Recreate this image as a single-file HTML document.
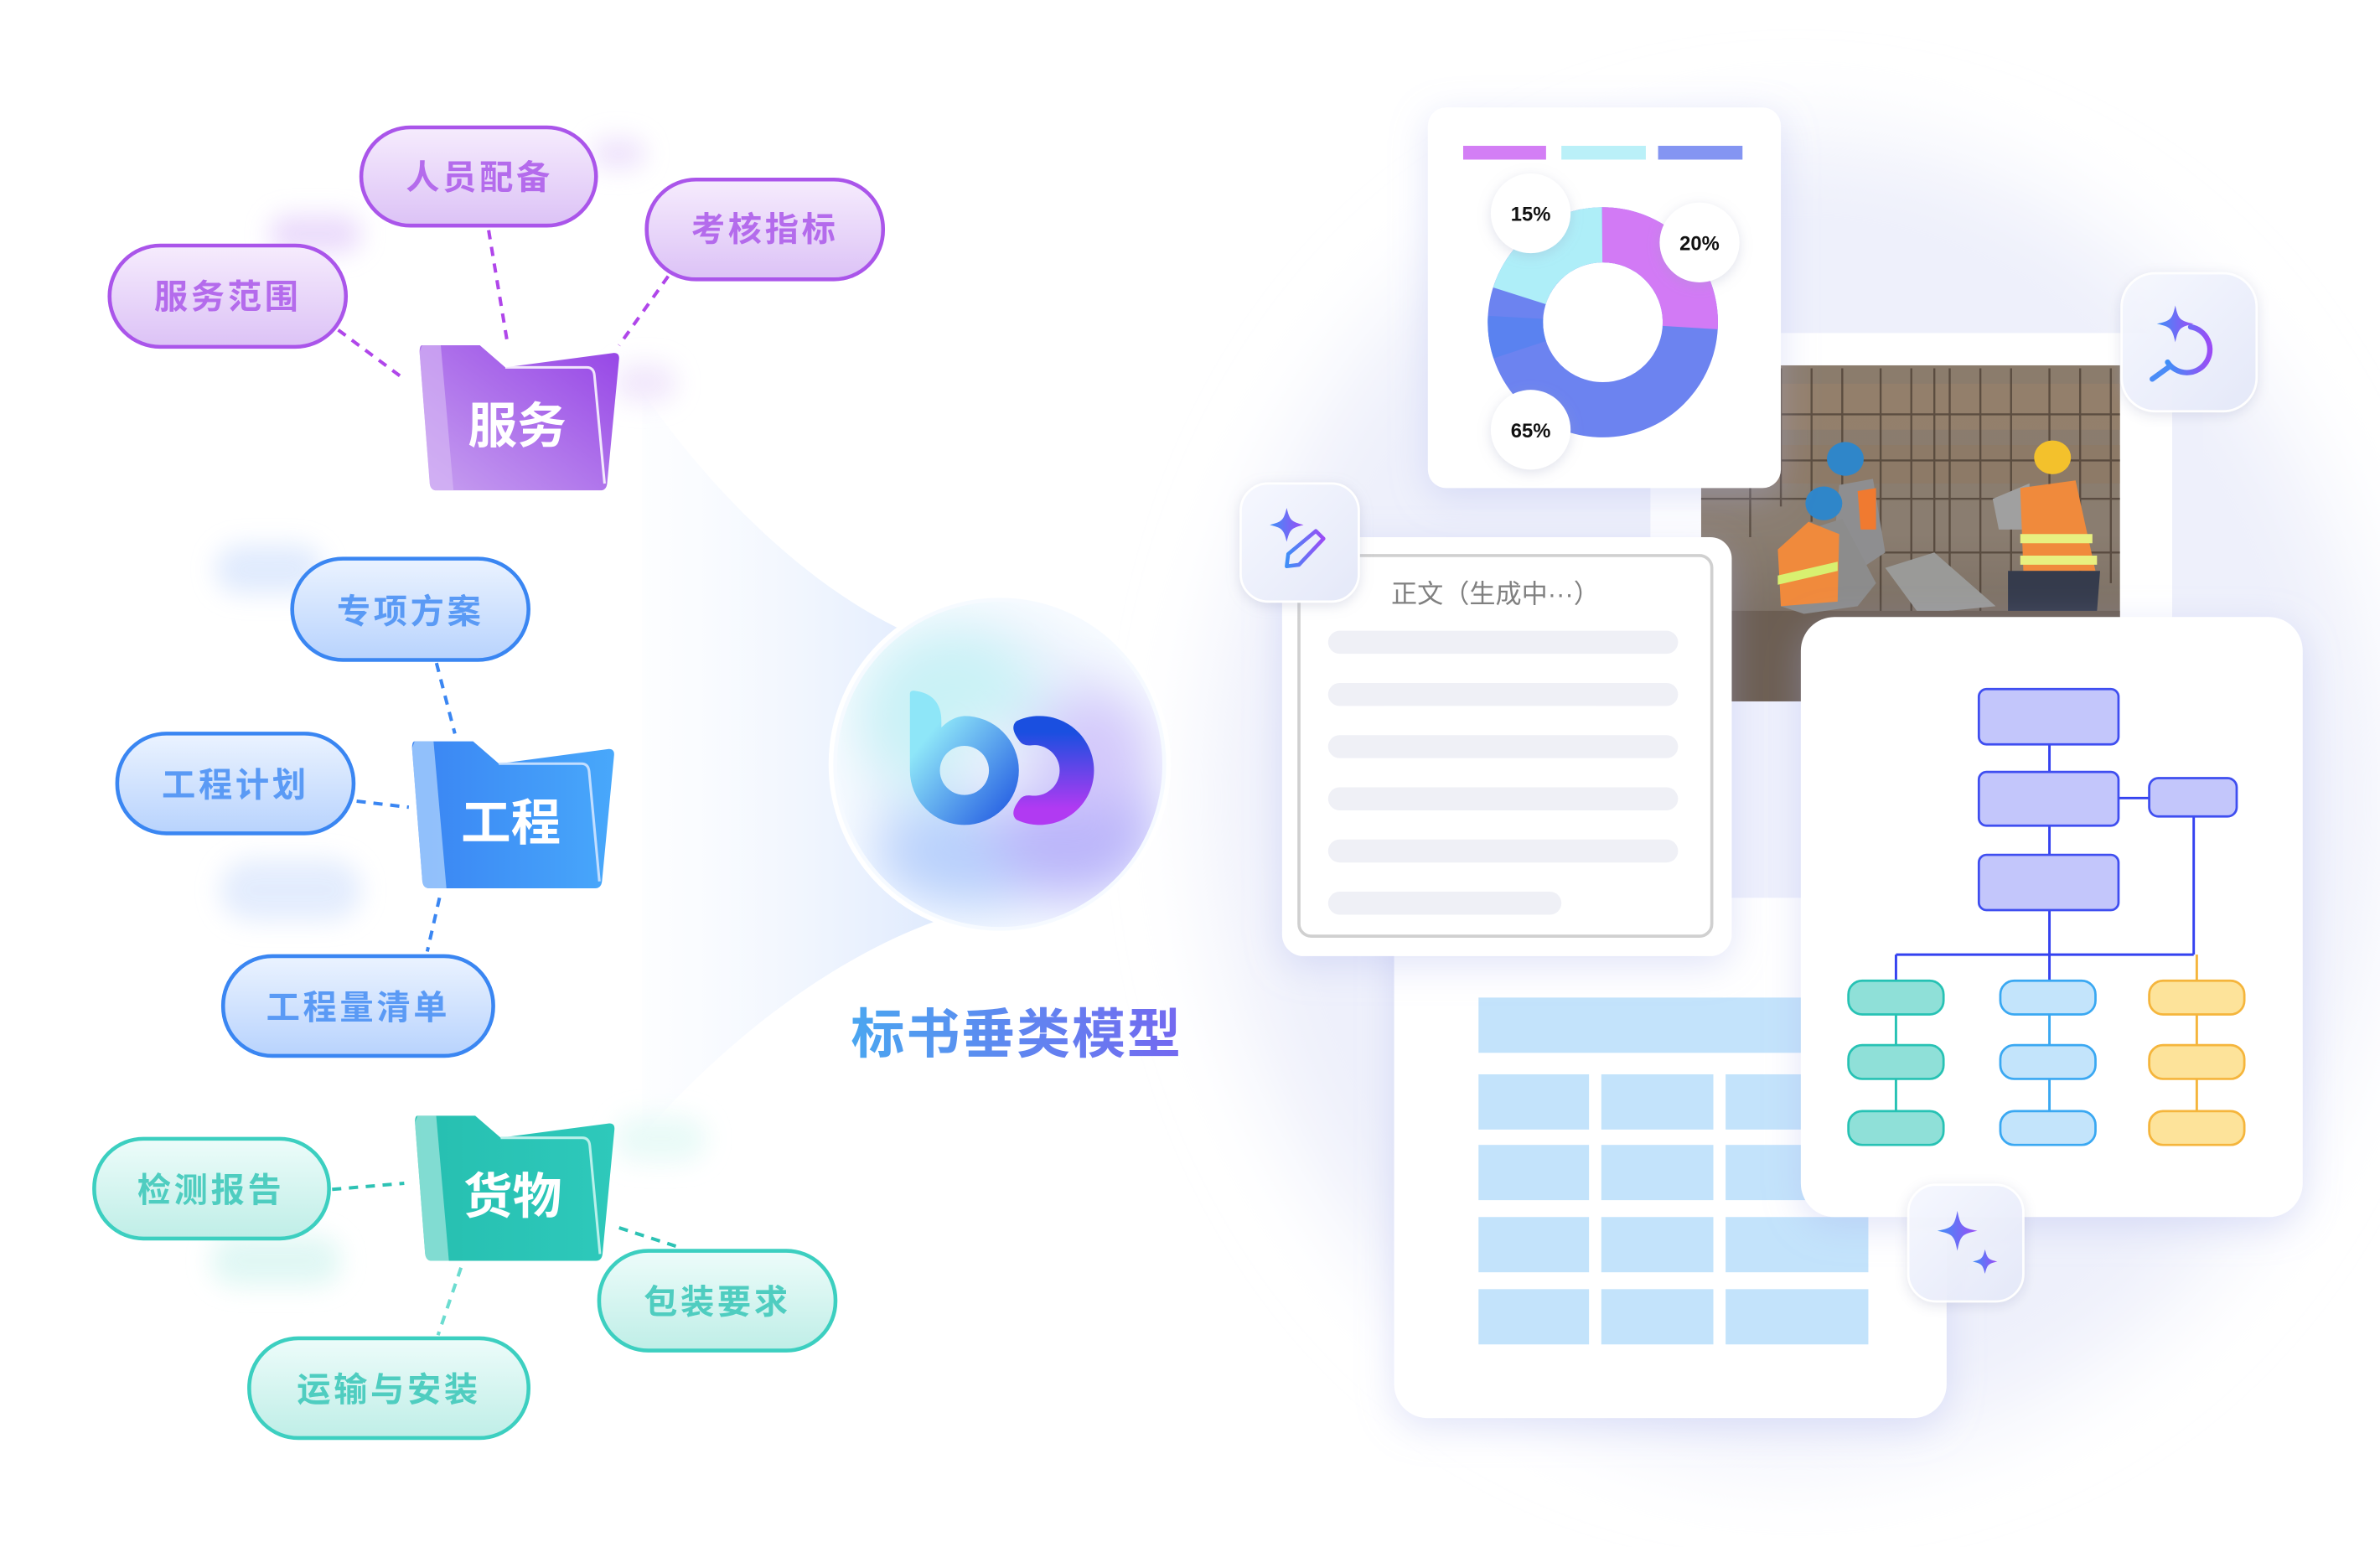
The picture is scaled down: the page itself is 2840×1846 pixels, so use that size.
<!DOCTYPE html>
<html><head><meta charset="utf-8"><style>
html,body{margin:0;padding:0;background:#fff;}
svg{display:block;}
text{font-family:"Liberation Sans","Noto Sans CJK SC",sans-serif;}
</style></head><body>
<svg width="2840" height="1846" viewBox="0 0 1550 1008" xmlns="http://www.w3.org/2000/svg">
<defs>
<filter id="blur8" x="-50%" y="-50%" width="200%" height="200%"><feGaussianBlur stdDeviation="8"/></filter>
<filter id="blur30" x="-50%" y="-50%" width="200%" height="200%"><feGaussianBlur stdDeviation="30"/></filter>
<filter id="blur18" x="-50%" y="-50%" width="200%" height="200%"><feGaussianBlur stdDeviation="18"/></filter>
<filter id="sh" x="-30%" y="-30%" width="160%" height="160%"><feDropShadow dx="0" dy="6" stdDeviation="12" flood-color="#a9b0ec" flood-opacity="0.35"/></filter>
<filter id="shs" x="-50%" y="-50%" width="200%" height="200%"><feDropShadow dx="0" dy="2" stdDeviation="4" flood-color="#9aa0c0" flood-opacity="0.3"/></filter>
<linearGradient id="gP" x1="0" y1="0" x2="0" y2="1"><stop offset="0" stop-color="#f6ecfd"/><stop offset="1" stop-color="#dcc2f6"/></linearGradient>
<linearGradient id="gB" x1="0" y1="0" x2="0" y2="1"><stop offset="0" stop-color="#ebf3ff"/><stop offset="1" stop-color="#b8d3fd"/></linearGradient>
<linearGradient id="gT" x1="0" y1="0" x2="0" y2="1"><stop offset="0" stop-color="#edfcfa"/><stop offset="1" stop-color="#bfeee7"/></linearGradient>
<linearGradient id="fP" x1="0" y1="1" x2="1" y2="0"><stop offset="0" stop-color="#c7a0f0"/><stop offset="1" stop-color="#9645e6"/></linearGradient>
<linearGradient id="fB" x1="0" y1="0" x2="1" y2="0"><stop offset="0" stop-color="#3a84f3"/><stop offset="1" stop-color="#48a8fb"/></linearGradient>
<linearGradient id="fT" x1="0" y1="0" x2="1" y2="0"><stop offset="0" stop-color="#26bfb0"/><stop offset="1" stop-color="#2ec9bb"/></linearGradient>
<linearGradient id="fan" x1="0" y1="0" x2="1" y2="0"><stop offset="0" stop-color="#f4f8ff" stop-opacity="0.2"/><stop offset="1" stop-color="#dfeafd"/></linearGradient>
<linearGradient id="logoB" x1="0" y1="0" x2="1" y2="1"><stop offset="0.25" stop-color="#8ee6f8"/><stop offset="1" stop-color="#1a4fe0"/></linearGradient>
<linearGradient id="logoD" x1="0" y1="0" x2="0" y2="1"><stop offset="0.15" stop-color="#1a4fe0"/><stop offset="0.85" stop-color="#b13af2"/></linearGradient>
<linearGradient id="title" x1="0" y1="0" x2="1" y2="0"><stop offset="0" stop-color="#4aa6f0"/><stop offset="1" stop-color="#7468f0"/></linearGradient>
<linearGradient id="spark" x1="0" y1="0" x2="1" y2="0"><stop offset="0" stop-color="#3f8ff7"/><stop offset="1" stop-color="#9b4cf5"/></linearGradient>
<linearGradient id="icon" x1="0" y1="0" x2="1" y2="1"><stop offset="0" stop-color="#f6f8ff"/><stop offset="1" stop-color="#e4e8f8"/></linearGradient>
<linearGradient id="photo" x1="0" y1="0" x2="0" y2="1"><stop offset="0" stop-color="#8b7c6c"/><stop offset="0.5" stop-color="#8a7d70"/><stop offset="1" stop-color="#6e6258"/></linearGradient>
<radialGradient id="orb" cx="0.5" cy="0.5" r="0.5"><stop offset="0.7" stop-color="#eef4fd"/><stop offset="1" stop-color="#f7fbff"/></radialGradient>
<clipPath id="orbClip"><circle cx="651" cy="498" r="106"/></clipPath>
<clipPath id="photoClip"><rect x="1108" y="238" width="273" height="219"/></clipPath>
</defs>

<ellipse cx="1170" cy="520" rx="380" ry="430" fill="#eef0fb" filter="url(#blur30)"/>

<path d="M418,255 C470,330 540,395 610,420 L610,600 C540,625 470,680 418,740 Z" fill="url(#fan)"/>

<g filter="url(#blur8)" opacity="0.8">
<rect x="385" y="90" width="35" height="20" rx="10" fill="#eadcfb"/>
<rect x="175" y="140" width="60" height="25" rx="12" fill="#e6d3fb"/>
<rect x="400" y="237" width="40" height="25" rx="12" fill="#eee2fb"/>
<rect x="140" y="355" width="70" height="32" rx="16" fill="#d9e6fd"/>
<rect x="143" y="560" width="92" height="40" rx="20" fill="#dde8fd"/>
<rect x="137" y="805" width="85" height="33" rx="16" fill="#d9f6f2"/>
<rect x="400" y="727" width="60" height="30" rx="15" fill="#e4f9f6"/>
</g>

<g fill="none" stroke-width="2.2" stroke-dasharray="6,5">
<path d="M318,150 L330,222" stroke="#b046ea"/>
<path d="M435,180 L403,225" stroke="#b046ea"/>
<path d="M220,215 L263,247" stroke="#b046ea"/>
<path d="M284,432 L296,478" stroke="#3a86f2"/>
<path d="M232,522 L266,526" stroke="#3a86f2"/>
<path d="M286,585 L278,620" stroke="#3a86f2"/>
<path d="M216,775 L263,771" stroke="#2dc2b4"/>
<path d="M403,800 L440,812" stroke="#2dc2b4"/>
<path d="M300,826 L285,870" stroke="#6cdcd0"/>
</g>

<g font-size="22" font-weight="bold" text-anchor="middle" letter-spacing="2">
<rect x="235" y="83" width="153" height="64" rx="32" fill="url(#gP)" stroke="#aa55ea" stroke-width="2.5"/>
<text x="312" y="123" fill="#b46bec">人员配备</text>
<rect x="421" y="117" width="154" height="65" rx="32" fill="url(#gP)" stroke="#aa55ea" stroke-width="2.5"/>
<text x="498" y="157" fill="#b46bec">考核指标</text>
<rect x="71" y="160" width="154" height="66" rx="33" fill="url(#gP)" stroke="#aa55ea" stroke-width="2.5"/>
<text x="148" y="201" fill="#b46bec">服务范围</text>

<rect x="190" y="364" width="154" height="66" rx="33" fill="url(#gB)" stroke="#3a86f2" stroke-width="2.5"/>
<text x="267" y="406" fill="#5a9af5">专项方案</text>
<rect x="76" y="478" width="154" height="65" rx="32" fill="url(#gB)" stroke="#3a86f2" stroke-width="2.5"/>
<text x="153" y="519" fill="#5a9af5">工程计划</text>
<rect x="145" y="623" width="176" height="65" rx="32" fill="url(#gB)" stroke="#3a86f2" stroke-width="2.5"/>
<text x="233" y="664" fill="#5a9af5">工程量清单</text>

<rect x="61" y="742" width="153" height="65" rx="32" fill="url(#gT)" stroke="#3ccfc0" stroke-width="2.5"/>
<text x="137" y="783" fill="#4fcdc0">检测报告</text>
<rect x="390" y="815" width="154" height="65" rx="32" fill="url(#gT)" stroke="#3ccfc0" stroke-width="2.5"/>
<text x="467" y="856" fill="#4fcdc0">包装要求</text>
<rect x="162" y="872" width="182" height="65" rx="32" fill="url(#gT)" stroke="#3ccfc0" stroke-width="2.5"/>
<text x="253" y="913" fill="#4fcdc0">运输与安装</text>
</g>

<g transform="translate(264.7,221.1) scale(0.553)">
<path d="M18,7 L86,7 L116,33 L244,16 Q251,16 250,24 L236,170 Q235,178 228,178 L35,178 Q28,178 27,170 L15,15 Q15,7 18,7 Z" fill="url(#fP)"/>
<path d="M18,7 L40,7 L55,178 L35,178 Q28,178 27,170 L15,15 Z" fill="#d8bdf5" opacity="0.6"/>
<path d="M116,33 L212,33 Q220,33 221,42 L233,170" fill="none" stroke="#fff" stroke-width="3" opacity="0.85"/>
<text x="130" y="122" font-size="58" font-weight="bold" fill="#fff" text-anchor="middle">服务</text>
</g>
<g transform="translate(259.7,479.1) scale(0.56)">
<path d="M18,7 L86,7 L116,33 L244,16 Q251,16 250,24 L236,170 Q235,178 228,178 L35,178 Q28,178 27,170 L15,15 Q15,7 18,7 Z" fill="url(#fB)"/>
<path d="M18,7 L40,7 L55,178 L35,178 Q28,178 27,170 L15,15 Z" fill="#b6d9fd" opacity="0.7"/>
<path d="M116,33 L212,33 Q220,33 221,42 L233,170" fill="none" stroke="#cfe4ff" stroke-width="3" opacity="0.9"/>
<text x="130" y="122" font-size="58" font-weight="bold" fill="#fff" text-anchor="middle">工程</text>
</g>
<g transform="translate(261.7,723.1) scale(0.553)">
<path d="M18,7 L86,7 L116,33 L244,16 Q251,16 250,24 L236,170 Q235,178 228,178 L35,178 Q28,178 27,170 L15,15 Q15,7 18,7 Z" fill="url(#fT)"/>
<path d="M18,7 L40,7 L55,178 L35,178 Q28,178 27,170 L15,15 Z" fill="#a8e8e0" opacity="0.7"/>
<path d="M116,33 L212,33 Q220,33 221,42 L233,170" fill="none" stroke="#c9f4ef" stroke-width="3" opacity="0.9"/>
<text x="130" y="122" font-size="58" font-weight="bold" fill="#fff" text-anchor="middle">货物</text>
</g>

<circle cx="651" cy="498" r="110" fill="url(#orb)" stroke="#ffffff" stroke-width="3"/>
<g clip-path="url(#orbClip)">
<g filter="url(#blur18)">
<ellipse cx="620" cy="465" rx="60" ry="55" fill="#c9f2f6"/>
<ellipse cx="630" cy="555" rx="60" ry="35" fill="#b8d0fc"/>
<ellipse cx="700" cy="540" rx="55" ry="45" fill="#b9b4fa"/>
<ellipse cx="710" cy="490" rx="40" ry="40" fill="#d3c8fb"/>
<ellipse cx="650" cy="500" rx="28" ry="28" fill="#eef1fd"/>
</g>
</g>
<path fill-rule="evenodd" fill="url(#logoB)" d="M592.5,452 Q592.5,450 595,450 Q613,452 613,470 L613,474 Q620,467 628,466.5 A35.5,35.5 0 1 1 592.5,502 Z M628,486 A16,16 0 1 0 628.01,486 Z"/>
<path fill="url(#logoD)" d="M662,469.8 A35.5 35.5 0 1 1 662,534.2 Q657,530 664,521 Q666,518 671,518.3 A16.5 16.5 0 1 0 671,485.7 Q666,486 664,483 Q657,474 662,469.8 Z"/>

<text x="662" y="686" font-size="35" font-weight="bold" fill="url(#title)" text-anchor="middle" letter-spacing="1">标书垂类模型</text>

<rect x="908" y="560" width="360" height="364" rx="22" fill="#fff" filter="url(#sh)"/>
<g fill="#c3e3fb">
<rect x="963" y="650" width="254" height="36"/>
<rect x="963" y="700" width="72" height="36"/><rect x="1043" y="700" width="73" height="36"/><rect x="1124" y="700" width="93" height="36"/>
<rect x="963" y="746" width="72" height="36"/><rect x="1043" y="746" width="73" height="36"/><rect x="1124" y="746" width="93" height="36"/>
<rect x="963" y="793" width="72" height="36"/><rect x="1043" y="793" width="73" height="36"/><rect x="1124" y="793" width="93" height="36"/>
<rect x="963" y="840" width="72" height="36"/><rect x="1043" y="840" width="73" height="36"/><rect x="1124" y="840" width="93" height="36"/>
</g>

<rect x="1075" y="217" width="340" height="238" rx="14" fill="#fff"/>
<rect x="1415" y="217" width="20" height="200" fill="#eef0fb"/>
<rect x="1075" y="455" width="100" height="130" fill="#eef0fc"/>
<g clip-path="url(#photoClip)">
<rect x="1108" y="238" width="273" height="219" fill="url(#photo)"/>
<rect x="1108" y="250" width="273" height="30" fill="#9a826a" opacity="0.6"/>
<rect x="1108" y="290" width="273" height="25" fill="#8f7760" opacity="0.5"/>
<g stroke="#4a3d32" stroke-width="1.3" opacity="0.75">
<path d="M1140,240 V350 M1160,240 V330 M1180,240 V340 M1200,240 V350 M1225,240 V420 M1245,240 V410 M1260,240 V400 M1270,240 V420 M1290,240 V400 M1310,240 V380 M1335,240 V370 M1355,240 V390 M1375,240 V380"/>
<path d="M1108,270 H1381 M1108,300 H1381 M1108,325 H1381 M1200,360 H1381"/>
</g>
<path d="M1228,370 L1260,360 L1300,395 L1250,400 Z" fill="#9a9a98"/>
<rect x="1108" y="398" width="273" height="60" fill="#6c5e52"/>
<!-- left workers -->
<path d="M1198,316 L1220,312 L1228,360 L1210,372 L1195,350 Z" fill="#8e8e90"/>
<ellipse cx="1202" cy="299" rx="12" ry="11" fill="#2f86c9"/>
<path d="M1210,320 L1222,318 L1222,345 L1212,345 Z" fill="#f07a30"/>
<path d="M1178,345 L1200,338 L1222,380 L1210,395 L1175,400 L1160,395 Z" fill="#8c8c8c"/>
<ellipse cx="1188" cy="328" rx="12" ry="11" fill="#2f86c9"/>
<path d="M1158,358 L1178,340 L1198,348 L1197,392 L1160,395 Z" fill="#f08a3c"/>
<path d="M1158,375 L1197,366 L1197,372 L1158,381 Z" fill="#d8f070"/>
<!-- right worker -->
<ellipse cx="1337" cy="298" rx="12" ry="11" fill="#f3c12c"/>
<path d="M1298,325 L1322,315 L1322,345 L1302,345 Z" fill="#a0a0a0"/>
<path d="M1316,318 L1352,313 L1365,372 L1318,372 Z" fill="#f08a3c"/>
<path d="M1316,348 H1363 V354 H1316 Z M1316,362 H1366 V368 H1316 Z" fill="#e8f080"/>
<path d="M1308,372 L1368,372 L1366,398 L1308,398 Z" fill="#353b4c"/>
</g>

<rect x="930" y="70" width="230" height="248" rx="12" fill="#fff" filter="url(#sh)"/>
<rect x="953" y="95" width="54" height="9" fill="#d37ef5"/>
<rect x="1017" y="95" width="55" height="9" fill="#baf0f8"/>
<rect x="1080" y="95" width="55" height="9" fill="#8495f2"/>
<g transform="rotate(-90 1044 210)" fill="none" stroke-width="36">
<circle cx="1044" cy="210" r="57" stroke="#6c83f0"/>
<circle cx="1044" cy="210" r="57" stroke="#d27af5" pathLength="100" stroke-dasharray="26 74"/>
<circle cx="1044" cy="210" r="57" stroke="#5a82f0" pathLength="100" stroke-dasharray="6 94" stroke-dashoffset="-70"/>
<circle cx="1044" cy="210" r="57" stroke="#aeeef8" pathLength="100" stroke-dasharray="20 80" stroke-dashoffset="-80"/>
</g>
<g font-size="13" font-weight="bold" text-anchor="middle" fill="#111">
<circle cx="997" cy="139" r="26" fill="#fff" filter="url(#shs)"/><text x="997" y="144">15%</text>
<circle cx="1107" cy="158" r="26" fill="#fff" filter="url(#shs)"/><text x="1107" y="163">20%</text>
<circle cx="997" cy="280" r="26" fill="#fff" filter="url(#shs)"/><text x="997" y="285">65%</text>
</g>

<rect x="835" y="350" width="293" height="273" rx="14" fill="#fff" filter="url(#sh)"/>
<rect x="846" y="362" width="269" height="248" rx="8" fill="none" stroke="#d0d0d0" stroke-width="2"/>
<text x="974" y="393" font-size="17" fill="#808080" text-anchor="middle">正文（生成中···）</text>
<g fill="#eff0f6">
<rect x="865" y="411" width="228" height="15" rx="7.5"/>
<rect x="865" y="445" width="228" height="15" rx="7.5"/>
<rect x="865" y="479" width="228" height="15" rx="7.5"/>
<rect x="865" y="513" width="228" height="15" rx="7.5"/>
<rect x="865" y="547" width="228" height="15" rx="7.5"/>
<rect x="865" y="581" width="152" height="15" rx="7.5"/>
</g>

<rect x="1173" y="402" width="327" height="391" rx="22" fill="#fff" filter="url(#sh)"/>
<g stroke="#3442f0" stroke-width="1.6" fill="none">
<path d="M1335,485 V503 M1335,538 V557 M1335,593 V639 M1380,520 H1400 M1429,532 V622 M1235,622 H1429 M1235,622 V639"/>
</g>
<g fill="#c3c6fb" stroke="#3f4ef0" stroke-width="1.5">
<rect x="1289" y="449" width="91" height="36" rx="5"/>
<rect x="1289" y="503" width="91" height="35" rx="5"/>
<rect x="1289" y="557" width="91" height="36" rx="5"/>
<rect x="1400" y="507" width="57" height="25" rx="6"/>
</g>
<g stroke-width="1.6">
<path d="M1235,661 V681 M1235,703 V724" stroke="#27c2b4"/>
<path d="M1335,661 V681 M1335,703 V724" stroke="#3aa8f2"/>
<path d="M1431,622 V639 M1431,661 V681 M1431,703 V724" stroke="#f5b53c"/>
</g>
<g stroke-width="1.5">
<rect x="1204" y="639" width="62" height="22" rx="9" fill="#8fe0d8" stroke="#27c2b4"/>
<rect x="1204" y="681" width="62" height="22" rx="9" fill="#8fe0d8" stroke="#27c2b4"/>
<rect x="1204" y="724" width="62" height="22" rx="9" fill="#8fe0d8" stroke="#27c2b4"/>
<rect x="1303" y="639" width="62" height="22" rx="9" fill="#c3e4fb" stroke="#3aa8f2"/>
<rect x="1303" y="681" width="62" height="22" rx="9" fill="#c3e4fb" stroke="#3aa8f2"/>
<rect x="1303" y="724" width="62" height="22" rx="9" fill="#c3e4fb" stroke="#3aa8f2"/>
<rect x="1400" y="639" width="62" height="22" rx="9" fill="#fde39a" stroke="#f5b53c"/>
<rect x="1400" y="681" width="62" height="22" rx="9" fill="#fde39a" stroke="#f5b53c"/>
<rect x="1400" y="724" width="62" height="22" rx="9" fill="#fde39a" stroke="#f5b53c"/>
</g>

<rect x="1382" y="178" width="88" height="90" rx="22" fill="url(#icon)" stroke="#fff" stroke-width="1.5" opacity="0.95" filter="url(#shs)"/>
<path transform="translate(1417,211)" d="M0,-12 C2,-3 3,-2 12,0 C3,2 2,3 0,12 C-2,3 -3,2 -12,0 C-3,-2 -2,-3 0,-12 Z" fill="url(#spark)"/>
<path d="M1427,213 A15,15 0 1 1 1412,236" fill="none" stroke="url(#spark)" stroke-width="3.5" stroke-linecap="round"/>
<path d="M1413,239 L1402,247" stroke="#4b8cf7" stroke-width="3.5" stroke-linecap="round"/>

<rect x="808" y="315" width="77" height="77" rx="18" fill="url(#icon)" stroke="#fff" stroke-width="1.5" filter="url(#shs)"/>
<path transform="translate(838,342)" d="M0,-11 C2,-3 3,-2 11,0 C3,2 2,3 0,11 C-2,3 -3,2 -11,0 C-3,-2 -2,-3 0,-11 Z" fill="url(#spark)"/>
<path d="M857,346 L862,351 L846,368 L838,369 L839,361 Z" fill="none" stroke="url(#spark)" stroke-width="2.5" stroke-linejoin="round"/>

<rect x="1243" y="772" width="75" height="76" rx="18" fill="url(#icon)" stroke="#fff" stroke-width="1.5" opacity="0.95" filter="url(#shs)"/>
<path transform="translate(1275,802)" d="M0,-13 C2,-3 3,-2 13,0 C3,2 2,3 0,13 C-2,3 -3,2 -13,0 C-3,-2 -2,-3 0,-13 Z" fill="url(#spark)"/>
<path transform="translate(1293,822)" d="M0,-8 C1.5,-2 2,-1.5 8,0 C2,1.5 1.5,2 0,8 C-1.5,2 -2,1.5 -8,0 C-2,-1.5 -1.5,-2 0,-8 Z" fill="url(#spark)"/>
</svg>
</body></html>
